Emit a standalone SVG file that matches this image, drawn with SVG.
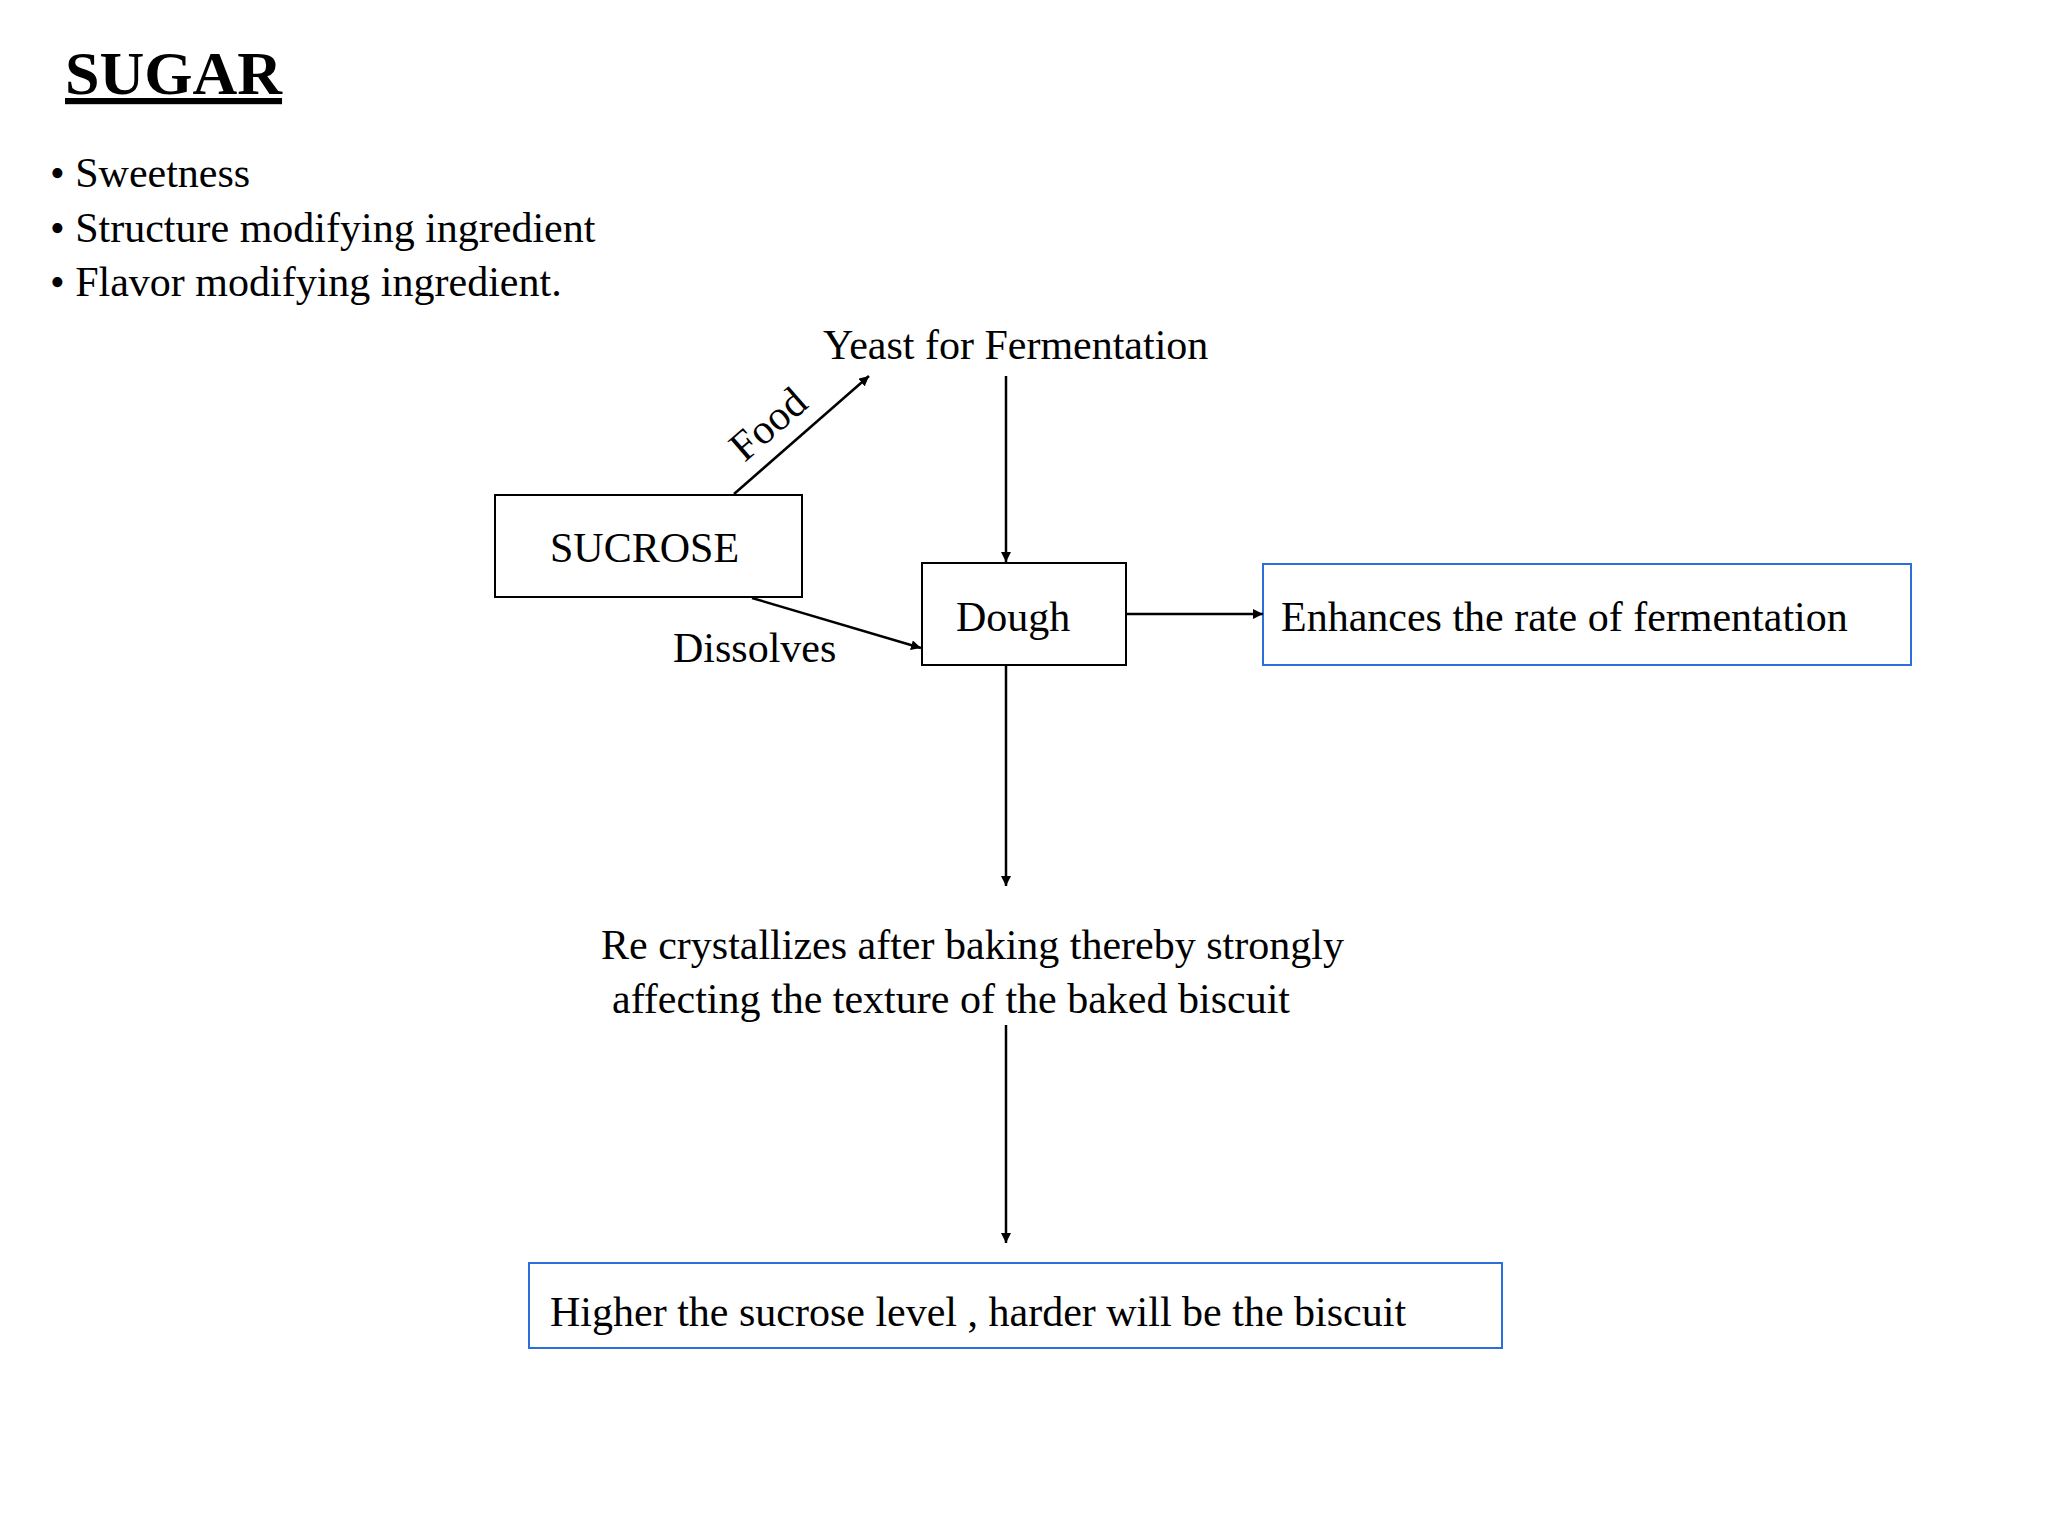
<svg xmlns="http://www.w3.org/2000/svg" width="2048" height="1536" viewBox="0 0 2048 1536">
<defs>
<marker id="ah" viewBox="0 0 10 10" refX="10" refY="5" markerWidth="10" markerHeight="10" markerUnits="userSpaceOnUse" orient="auto"><path d="M0,0 L10,5 L0,10 z" fill="#000"/></marker>
<style>
text{font-family:"Liberation Serif","Times New Roman",serif;font-size:42px;fill:#000}
.blk{fill:#fff;stroke:#000;stroke-width:2}
.blu{fill:#fff;stroke:#2a6fdb;stroke-width:2}
.c{stroke:#000;stroke-width:2.5;fill:none;marker-end:url(#ah)}
</style>
</defs>
<rect width="2048" height="1536" fill="#fff"/>
<g id="title"><text x="65" y="94" style="font-size:62px;font-weight:bold" text-decoration="underline">SUGAR </text></g>
<g id="bullets">
<text x="50" y="187">• Sweetness</text>
<text x="50" y="242">• Structure modifying ingredient</text>
<text x="50" y="296">• Flavor modifying ingredient.</text>
</g>
<g id="yeast"><text x="823" y="359">Yeast for Fermentation</text></g>
<g id="sucrose"><rect class="blk" x="495" y="495" width="307" height="102"/><text x="550" y="562">SUCROSE</text></g>
<g id="dough"><rect class="blk" x="922" y="563" width="204" height="102"/><text x="956" y="631">Dough</text></g>
<g id="enhances"><rect class="blu" x="1263" y="564" width="648" height="101"/><text x="1281" y="631">Enhances the rate of fermentation</text></g>
<g id="recryst"><text x="601" y="959">Re crystallizes after baking thereby strongly</text><text x="612" y="1013">affecting the texture of the baked biscuit</text></g>
<g id="higher"><rect class="blu" x="529" y="1263" width="973" height="85"/><text x="550" y="1326">Higher the sucrose level , harder will be the biscuit</text></g>
<g id="connectors">
<line class="c" x1="734" y1="494" x2="869" y2="376"/>
<line class="c" x1="1006" y1="376" x2="1006" y2="562"/>
<line class="c" x1="752" y1="598" x2="921" y2="648"/>
<line class="c" x1="1126" y1="614" x2="1263" y2="614"/>
<line class="c" x1="1006" y1="666" x2="1006" y2="886"/>
<line class="c" x1="1006" y1="1025" x2="1006" y2="1243"/>
<text x="768" y="438" text-anchor="middle" transform="rotate(-41 768 424)">Food</text>
<text x="673" y="662">Dissolves</text>
</g>
</svg>
